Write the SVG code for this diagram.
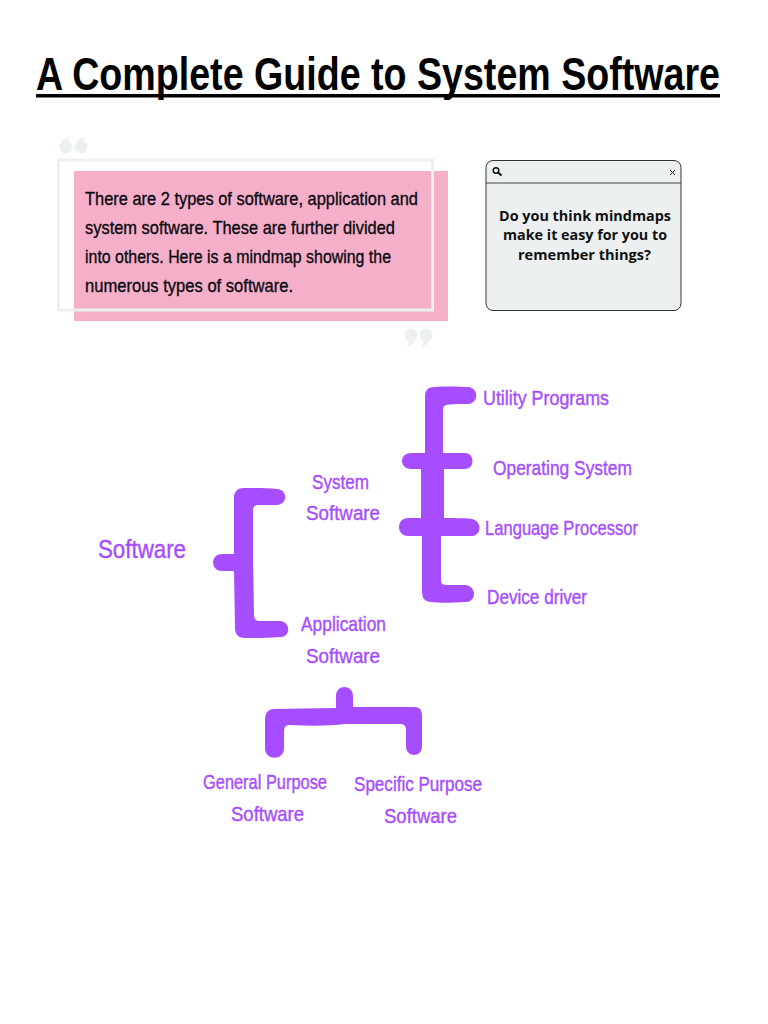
<svg xmlns="http://www.w3.org/2000/svg" width="768" height="1024" viewBox="0 0 768 1024">
<style>
text{font-family:"Liberation Sans Narrow","Liberation Sans",Arial,sans-serif}
.title{font-size:47px;font-weight:700;fill:#000}
.body{font-size:19px;fill:#0a0a12;stroke:#0a0a12;stroke-width:.35}
.q{font-family:"Open Sans","Liberation Sans",sans-serif;font-size:14px;font-weight:700;fill:#111}
.p{fill:#a64dff;font-size:21px;stroke:#a64dff;stroke-width:.4}
.br{fill:#a64dff}
.qm{fill:#edf0f1}
</style>
<rect width="768" height="1024" fill="#fff"/>
<g id="title">
<text class="title" x="36" y="90" textLength="684" lengthAdjust="spacingAndGlyphs">A Complete Guide to System Software</text>
<rect x="36" y="94" width="684" height="3.500" fill="#000"/>
</g>
<g id="quote">
<g class="qm"><circle cx="66" cy="147" r="6.500"/><path d="M60 147Q61 139 70 137L68 143Z"/><circle cx="81" cy="147" r="6.500"/><path d="M75 147Q76 139 85 137L83 143Z"/></g>
<rect x="74" y="171" width="374" height="150" fill="#f5afc8"/>
<rect x="58.500" y="160" width="374" height="150" fill="none" stroke="#edf0f1" stroke-width="3"/>
<text class="body" x="85" y="205" textLength="333" lengthAdjust="spacingAndGlyphs">There are 2 types of software, application and</text>
<text class="body" x="85" y="234" textLength="310" lengthAdjust="spacingAndGlyphs">system software. These are further divided</text>
<text class="body" x="85" y="263" textLength="306" lengthAdjust="spacingAndGlyphs">into others. Here is a mindmap showing the</text>
<text class="body" x="85" y="292" textLength="208" lengthAdjust="spacingAndGlyphs">numerous types of software.</text>
<g class="qm"><circle cx="411" cy="335" r="6.500"/><path d="M417 335Q416 343 407 347L409 340Z"/><circle cx="426" cy="335" r="6.500"/><path d="M432 335Q431 343 422 347L424 340Z"/></g>
</g>
<g id="popup">
<rect x="486" y="160.500" width="195" height="150" rx="7" fill="#ecf0f1" stroke="#333" stroke-width="1"/>
<path d="M486 183H681" stroke="#444" stroke-width="1"/>
<circle cx="496" cy="170.500" r="2.800" fill="none" stroke="#111" stroke-width="1.500"/>
<path d="M498 172.500L501.500 175.500" stroke="#111" stroke-width="2"/>
<path d="M670 170L675 175M675 170L670 175" stroke="#222" stroke-width="1"/>
<text class="q" x="499" y="221" textLength="172" lengthAdjust="spacingAndGlyphs">Do you think mindmaps</text>
<text class="q" x="503" y="240" textLength="164" lengthAdjust="spacingAndGlyphs">make it easy for you to</text>
<text class="q" x="518" y="260" textLength="133" lengthAdjust="spacingAndGlyphs">remember things?</text>
</g>
<g id="connectors">
<path class="br" d="M435 387C450 386 462 387 468 387C479 388 479 403 468 404C458 404 450 404 446 405C443 406 443 408 443 412V453H465C475 453 475 469 465 469H444V518C445 518 470 518 472 519C482 521 482 535 472 536H441V580C441 584 443 585 447 585H465C477 586 477 602 465 602C450 603 440 603 430 602C424 601 422 598 422 590V536H408C396 536 396 518 408 518H421V469H411C399 469 399 453 411 453H425V397C425 390 428 387 435 387Z"/>
<path class="br" d="M244 488C255 488 268 488 277 489C288 490 288 504 277 505H259C254 505 253 507 253 511V555L254 615C254 619 256 621 260 621H280C291 622 291 637 280 637C268 638 255 638 245 638C238 638 235 634 235 628L234 571H222C210 571 210 554 222 554H234V498C234 491 238 488 244 488Z"/>
<path class="br" d="M274 709L336 708V696C336 684 353 684 353 696V707H414C420 707 422 710 422 716V746C422 758 406 758 406 746V730C406 726 404 724 400 724H345C330 726 310 726 290 725C286 725 284 727 284 731V748C284 761 265 761 265 748V720C265 713 268 709 274 709Z"/>
</g>
<g id="node-software"><text class="p" style="font-size:25px" x="98" y="558" textLength="88" lengthAdjust="spacingAndGlyphs">Software</text></g>
<g id="node-system"><text class="p" x="312" y="489" textLength="57" lengthAdjust="spacingAndGlyphs">System</text><text class="p" x="306" y="520" textLength="74" lengthAdjust="spacingAndGlyphs">Software</text></g>
<g id="node-application"><text class="p" x="301" y="631" textLength="85" lengthAdjust="spacingAndGlyphs">Application</text><text class="p" x="306" y="663" textLength="74" lengthAdjust="spacingAndGlyphs">Software</text></g>
<g id="node-utility"><text class="p" x="483" y="405" textLength="126" lengthAdjust="spacingAndGlyphs">Utility Programs</text></g>
<g id="node-os"><text class="p" x="493" y="475" textLength="139" lengthAdjust="spacingAndGlyphs">Operating System</text></g>
<g id="node-language"><text class="p" x="485" y="535" textLength="153" lengthAdjust="spacingAndGlyphs">Language Processor</text></g>
<g id="node-device"><text class="p" x="487" y="604" textLength="100" lengthAdjust="spacingAndGlyphs">Device driver</text></g>
<g id="node-general"><text class="p" x="203" y="789" textLength="124" lengthAdjust="spacingAndGlyphs">General Purpose</text><text class="p" x="231" y="821" textLength="73" lengthAdjust="spacingAndGlyphs">Software</text></g>
<g id="node-specific"><text class="p" x="354" y="791" textLength="128" lengthAdjust="spacingAndGlyphs">Specific Purpose</text><text class="p" x="384" y="823" textLength="73" lengthAdjust="spacingAndGlyphs">Software</text></g>
</svg>
